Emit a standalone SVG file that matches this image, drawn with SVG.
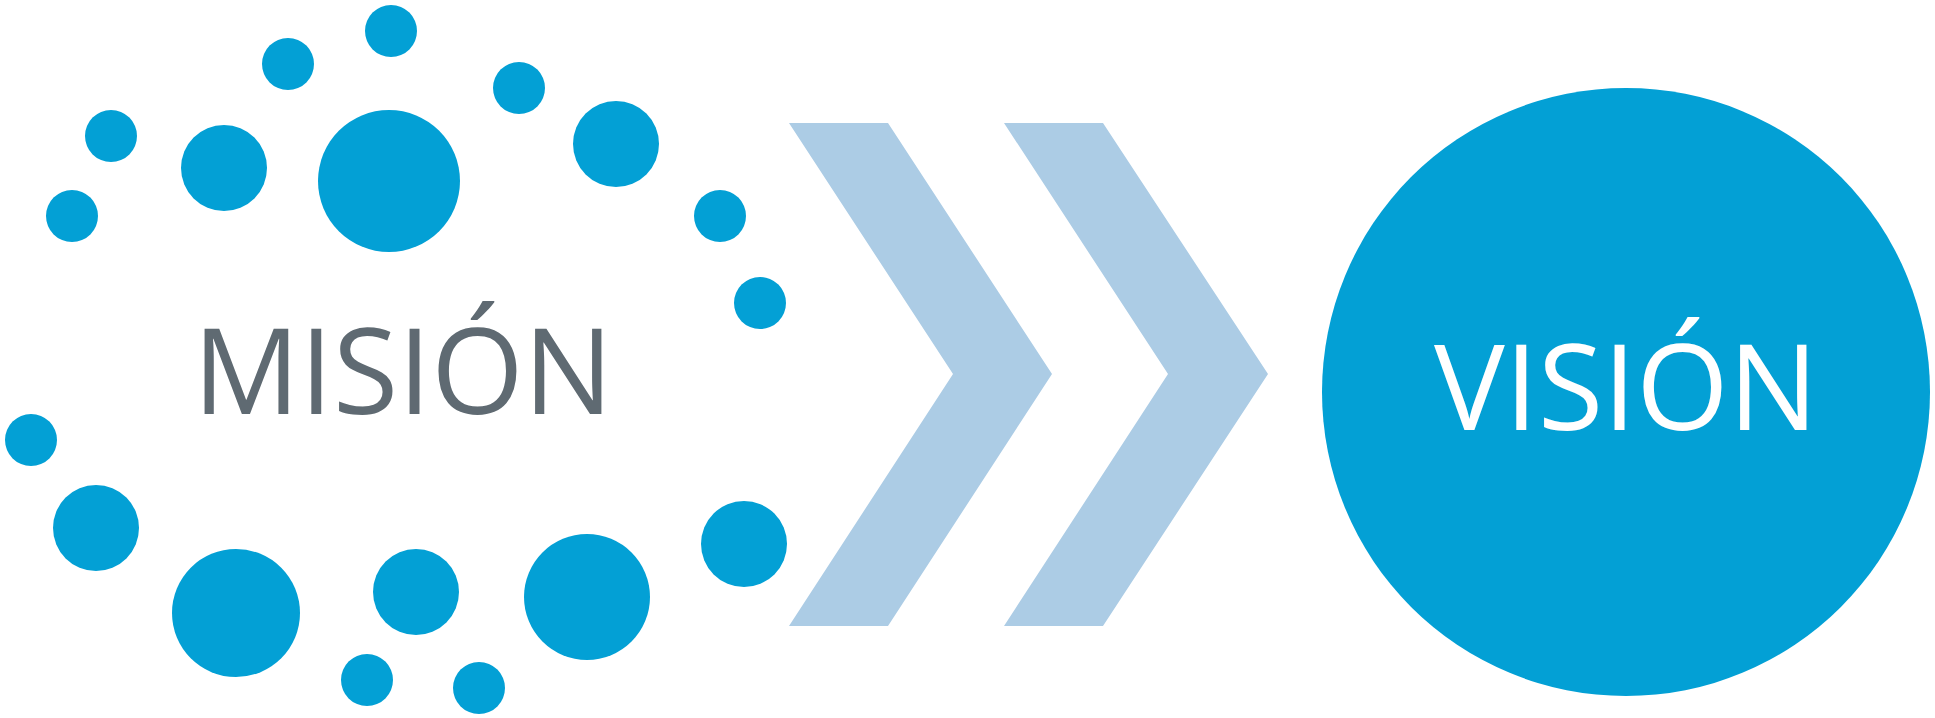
<svg xmlns="http://www.w3.org/2000/svg" width="1935" height="718" viewBox="0 0 1935 718">
<style>
.dot{fill:#03a0d5}
.chev{fill:#acccE5}
.lbl{font-family:"Open Sans","Liberation Sans",sans-serif;font-size:119px}
</style>
<rect width="1935" height="718" fill="#ffffff"/>
<g id="mision">
<circle class="dot" cx="391" cy="31" r="26"/>
<circle class="dot" cx="288" cy="64" r="26"/>
<circle class="dot" cx="519" cy="88" r="26"/>
<circle class="dot" cx="111" cy="136" r="26"/>
<circle class="dot" cx="224" cy="168" r="43"/>
<circle class="dot" cx="389" cy="181" r="71"/>
<circle class="dot" cx="616" cy="144" r="43"/>
<circle class="dot" cx="72" cy="216" r="26"/>
<circle class="dot" cx="720" cy="216" r="26"/>
<circle class="dot" cx="760" cy="303" r="26"/>
<circle class="dot" cx="31" cy="440" r="26"/>
<circle class="dot" cx="96" cy="528" r="43"/>
<circle class="dot" cx="744" cy="544" r="43"/>
<circle class="dot" cx="236" cy="613" r="64"/>
<circle class="dot" cx="416" cy="592" r="43"/>
<circle class="dot" cx="587" cy="597" r="63"/>
<circle class="dot" cx="367" cy="680" r="26"/>
<circle class="dot" cx="479" cy="688" r="26"/>
<text class="lbl" x="193" y="414" fill="#5f6a72" textLength="420" lengthAdjust="spacingAndGlyphs">MISIÓN</text>
</g>
<g id="connectors">
<polygon class="chev" points="789,123 888,123 1052,374 888,626 789,626 953,374"/>
<polygon class="chev" points="1004,123 1103,123 1268,374 1103,626 1004,626 1168,374"/>
</g>
<g id="vision">
<circle class="dot" cx="1626" cy="392" r="304"/>
<text class="lbl" x="1434" y="430" fill="#ffffff" textLength="384" lengthAdjust="spacingAndGlyphs">VISIÓN</text>
</g>
</svg>
